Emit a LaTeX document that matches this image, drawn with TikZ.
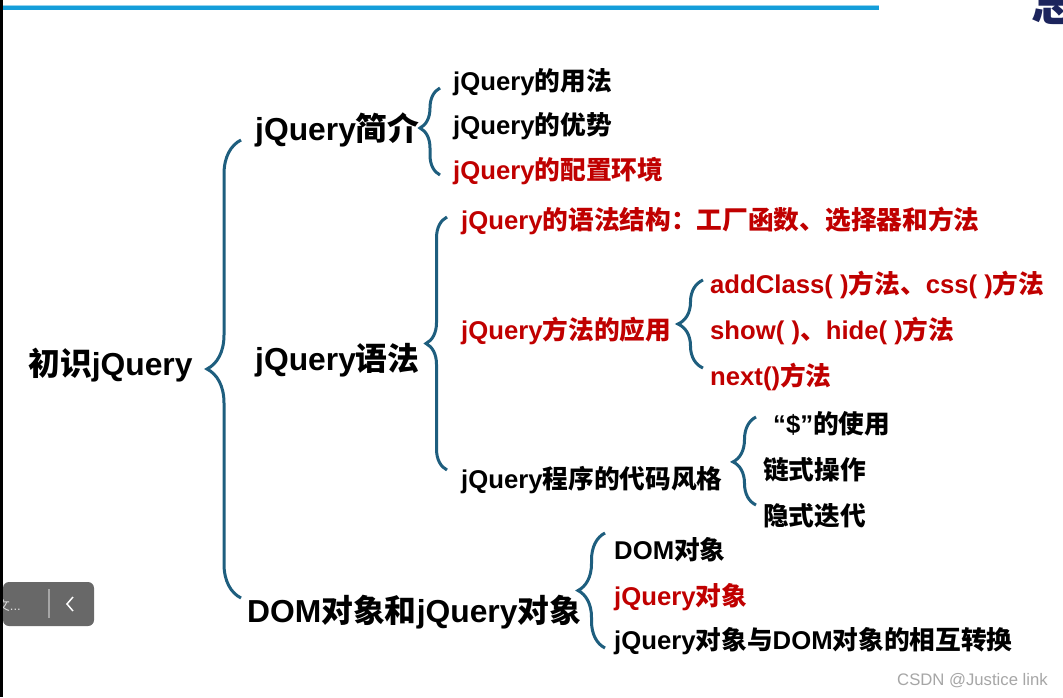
\documentclass[tikz,border=0pt]{standalone}
\usepackage{fontspec}
\usetikzlibrary{decorations.pathreplacing}
\setmainfont{Liberation Sans}
\newfontfamily\cjkfont{Noto Sans CJK SC}

% CJK characters switch to the CJK font by themselves
\XeTeXinterchartokenstate=1
\newXeTeXintercharclass\cjkclass
\newcount\cjkchr
\newcommand\cjkrange[2]{\cjkchr=#1\relax
  \loop\XeTeXcharclass\cjkchr=\cjkclass\relax
  \advance\cjkchr by 1\relax\ifnum\cjkchr<#2\repeat}
\cjkrange{"3000}{"3040}
\cjkrange{"4E00}{"A000}
\cjkrange{"FF00}{"FFF0}
\XeTeXinterchartoks 0 \cjkclass = {\cjkfont}
\XeTeXinterchartoks 4095 \cjkclass = {\cjkfont}
\XeTeXinterchartoks \cjkclass 0 = {\rmfamily}
\XeTeXinterchartoks \cjkclass 4095 = {\rmfamily}

\definecolor{bracecol}{RGB}{30,94,126}
\definecolor{keyred}{RGB}{192,0,0}
\definecolor{barblue}{RGB}{20,158,218}
\definecolor{titlenavy}{RGB}{28,36,92}
\definecolor{btngrey}{RGB}{104,104,104}

\begin{document}
\begin{tikzpicture}[x=1pt, y=-1pt,
    big/.style={anchor=west, inner sep=0pt, font=\bfseries\fontsize{31.8}{36}\selectfont},
    item/.style={anchor=west, inner sep=0pt, font=\bfseries\fontsize{25.7}{30}\selectfont},
    key/.style={text=keyred},
    brc/.style 2 args={draw=bracecol, line width=3pt, decorate,
      decoration={brace, amplitude=#1, aspect=#2}}
  ]
  \useasboundingbox (0,0) rectangle (1063,697);
  \fill[white] (0,0) rectangle (1063,697);

  % slide frame
  \fill[barblue] (3,5.5) rectangle (879,10);
  \draw[barblue!45, line width=1pt] (3,5.5) -- (879,5.5);
  \node[anchor=south west, inner sep=0pt, text=titlenavy,
    font=\bfseries\fontsize{48}{48}\selectfont] (title) at (1031,25) {总};

  % tree
  \node[big] (root) at (28,365) {初识jQuery};
  \node[big] (intro) at (255,130) {jQuery简介};
  \node[big] (syntax) at (255,360) {jQuery语法};
  \node[big] (dom) at (247,612) {DOM对象和jQuery对象};

  \node[item] (usage) at (453,82) {jQuery的用法};
  \node[item] (merit) at (453,126) {jQuery的优势};
  \node[item, key] (setup) at (453,171) {jQuery的配置环境};

  \node[item, key] (struct) at (461,221) {jQuery的语法结构：工厂函数、选择器和方法};
  \node[item, key] (apply) at (461,331) {jQuery方法的应用};
  \node[item] (style) at (461,480) {jQuery程序的代码风格};

  \node[item, key] (addcls) at (710,285) {addClass( )方法、css( )方法};
  \node[item, key] (show) at (710,331) {show( )、hide( )方法};
  \node[item, key] (next) at (710,377) {next()方法};

  \node[item] (dollar) at (773,424) {“\$”的使用};
  \node[item] (chain) at (763,470) {链式操作};
  \node[item] (iter) at (763,516) {隐式迭代};

  \node[item] (domobj) at (614,550) {DOM对象};
  \node[item, key] (jqobj) at (614,597) {jQuery对象};
  \node[item] (conv) at (614,641) {jQuery对象与DOM对象的相互转换};

  % brace ends
  \coordinate (rootTop) at (241,140);  \coordinate (rootBot) at (241,598);
  \coordinate (introTop) at (440,88);  \coordinate (introBot) at (440,175);
  \coordinate (syntaxTop) at (447,217); \coordinate (syntaxBot) at (447,470);
  \coordinate (applyTop) at (703,280); \coordinate (applyBot) at (703,368);
  \coordinate (styleTop) at (756,417); \coordinate (styleBot) at (756,505);
  \coordinate (domTop) at (605,533);   \coordinate (domBot) at (605,648);

  \draw[brc={34pt}{0.5}] (rootBot) -- (rootTop);
  \draw[brc={20pt}{0.54}] (introBot) -- (introTop);
  \draw[brc={21pt}{0.5}] (syntaxBot) -- (syntaxTop);
  \draw[brc={25pt}{0.5}] (applyBot) -- (applyTop);
  \draw[brc={23pt}{0.49}] (styleBot) -- (styleTop);
  \draw[brc={27pt}{0.5}] (domBot) -- (domTop);

  % page overlay
  \fill[btngrey, rounded corners=6pt] (3,582) rectangle (94,626);
  \draw[gray!70, line width=1.2pt] (49,589) -- (49,618);
  \draw[white, line width=1.5pt] (73,597) -- (67,604) -- (73,611);
  \node[anchor=east, inner sep=0pt, text=gray!25,
    font=\fontsize{13}{14}\selectfont] (more) at (21,605) {文...};
  \node[anchor=west, inner sep=0pt, text=gray!70,
    font=\fontsize{16.7}{18}\selectfont] (mark) at (897,681) {CSDN @Justice link};
  \fill[black] (0,0) rectangle (3,697);
\end{tikzpicture}
\end{document}
